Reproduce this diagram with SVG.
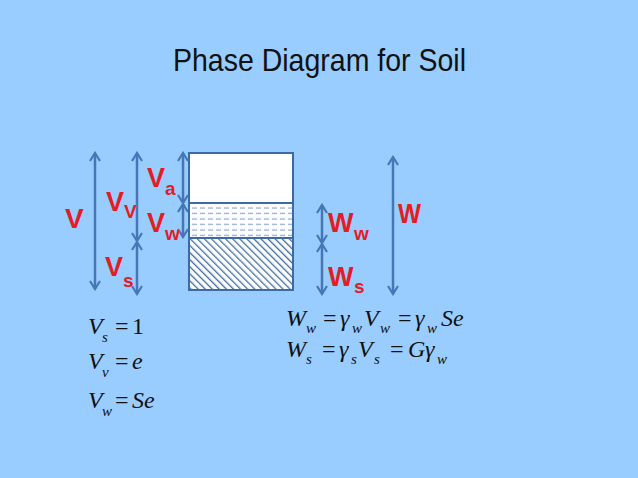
<svg xmlns="http://www.w3.org/2000/svg" width="638" height="478" viewBox="0 0 638 478">
<defs>
<marker id="arr" viewBox="0 0 12 12" refX="10" refY="6" markerWidth="12" markerHeight="12" markerUnits="userSpaceOnUse" orient="auto-start-reverse">
<path d="M2,1 L10,6 L2,11" fill="none" stroke="#4677B5" stroke-width="2.2"/>
</marker>
<pattern id="water" patternUnits="userSpaceOnUse" x="0" y="205" width="8" height="5.5">
<rect width="8" height="5.5" fill="#ffffff"/>
<line x1="0" y1="3" x2="5" y2="3" stroke="#8EA9CF" stroke-width="1.2"/>
</pattern>
<pattern id="solid" patternUnits="userSpaceOnUse" width="5" height="5" patternTransform="rotate(-45)">
<rect width="5" height="5" fill="#ffffff"/>
<line x1="0" y1="0" x2="0" y2="5" stroke="#3F6DA6" stroke-width="2.6"/>
</pattern>
<style>
.ar{stroke:#4677B5;stroke-width:2.5;fill:none;marker-start:url(#arr);marker-end:url(#arr)}
.lb{font-family:"Liberation Sans",Arial,sans-serif;font-weight:bold;fill:#E41C24}
.eq{font-family:"Liberation Serif","Times New Roman",serif;font-size:24px;fill:#111}
.it{font-style:italic}
.sb{font-size:15px;font-style:italic}
</style>
</defs>
<rect width="638" height="478" fill="#99CCFF"/>
<text x="173" y="71" font-family="Liberation Sans,Arial,sans-serif" font-size="32" fill="#111" textLength="293" lengthAdjust="spacingAndGlyphs">Phase Diagram for Soil</text>

<g id="box">
<rect x="189" y="153" width="104" height="50" fill="#ffffff"/>
<rect x="189" y="203" width="104" height="35" fill="url(#water)"/>
<rect x="189" y="238" width="104" height="52" fill="url(#solid)"/>
<rect x="189" y="153" width="104" height="137" fill="none" stroke="#3A6BA5" stroke-width="2"/>
<line x1="189" y1="203" x2="293" y2="203" stroke="#3A6BA5" stroke-width="2"/>
<line x1="189" y1="238" x2="293" y2="238" stroke="#3A6BA5" stroke-width="2"/>
</g>

<g id="connectors">
<line class="ar" x1="95" y1="153" x2="95" y2="289"/>
<line class="ar" x1="137" y1="153" x2="137" y2="241"/>
<line class="ar" x1="137" y1="242" x2="137" y2="294"/>
<line class="ar" x1="183" y1="153" x2="183" y2="203"/>
<line class="ar" x1="183" y1="204" x2="183" y2="237"/>
<line class="ar" x1="322" y1="205" x2="322" y2="243"/>
<line class="ar" x1="322" y1="244" x2="322" y2="294"/>
<line class="ar" x1="393" y1="157" x2="393" y2="294"/>
</g>

<g id="lbl-V"><text class="lb" x="65" y="228" font-size="28">V</text></g>
<g id="lbl-Vv"><text class="lb" x="106" y="211" font-size="27">V</text><text class="lb" x="124" y="218" font-size="19">V</text></g>
<g id="lbl-Va"><text class="lb" x="147" y="187" font-size="27">V</text><text class="lb" x="165" y="195" font-size="19">a</text></g>
<g id="lbl-Vw"><text class="lb" x="147" y="232" font-size="27">V</text><text class="lb" x="165" y="240" font-size="19">w</text></g>
<g id="lbl-Vs"><text class="lb" x="105" y="276" font-size="27">V</text><text class="lb" x="123" y="287" font-size="19">s</text></g>
<g id="lbl-Ww"><text class="lb" x="328" y="232" font-size="27">W</text><text class="lb" x="354" y="240" font-size="19">w</text></g>
<g id="lbl-Ws"><text class="lb" x="328" y="286" font-size="27">W</text><text class="lb" x="354" y="293" font-size="19">s</text></g>
<g id="lbl-W"><text class="lb" x="398" y="223" font-size="27" textLength="23" lengthAdjust="spacingAndGlyphs">W</text></g>

<g id="eq-left">
<text class="eq it" x="88" y="334">V</text><text class="eq sb" x="102" y="342">s</text><text class="eq" x="115" y="334">=</text><text class="eq" x="132" y="334">1</text>
<text class="eq it" x="88" y="369">V</text><text class="eq sb" x="102" y="377">v</text><text class="eq" x="115" y="369">=</text><text class="eq it" x="132" y="369">e</text>
<text class="eq it" x="88" y="408">V</text><text class="eq sb" x="102" y="416">w</text><text class="eq" x="115" y="408">=</text><text class="eq it" x="132" y="408">Se</text>
</g>

<g id="eq-right">
<text class="eq it" x="286" y="326">W</text><text class="eq sb" x="306" y="333">w</text><text class="eq" x="323" y="326">=</text><text class="eq it" x="340" y="326">γ</text><text class="eq sb" x="352" y="333">w</text><text class="eq it" x="364" y="326">V</text><text class="eq sb" x="380" y="333">w</text><text class="eq" x="398" y="326">=</text><text class="eq it" x="415" y="326">γ</text><text class="eq sb" x="427" y="333">w</text><text class="eq it" x="441" y="326">Se</text>
<text class="eq it" x="286" y="357">W</text><text class="eq sb" x="306" y="364">s</text><text class="eq" x="322" y="357">=</text><text class="eq it" x="339" y="357">γ</text><text class="eq sb" x="351" y="364">s</text><text class="eq it" x="358" y="357">V</text><text class="eq sb" x="374" y="364">s</text><text class="eq" x="390" y="357">=</text><text class="eq it" x="408" y="357">G</text><text class="eq it" x="425" y="357">γ</text><text class="eq sb" x="437" y="364">w</text>
</g>
</svg>
